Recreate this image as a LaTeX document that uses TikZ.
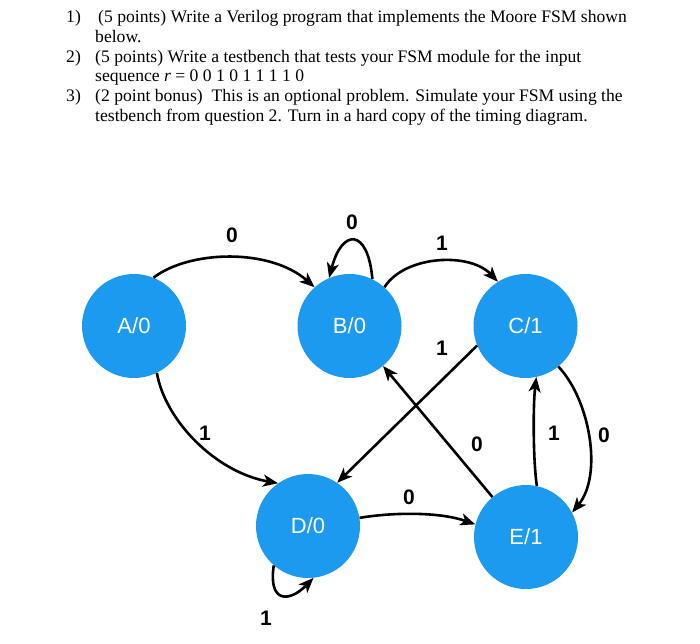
\documentclass[tikz,border=0pt]{standalone}
\usepackage{fontspec}
\setmainfont{Liberation Serif}
\newfontfamily\labelfont{Liberation Sans}
\usetikzlibrary{arrows.meta}
\definecolor{stateblue}{RGB}{28,154,240}
\tikzset{
  state/.style={circle,fill=stateblue,draw=none,minimum size=104pt,inner sep=0pt,
    text=white,font=\labelfont\fontsize{22}{24}\selectfont},
  trans/.style={line width=2.6pt,-{Stealth[length=15pt,width=12pt,inset=4pt]}},
  lbl/.style={font=\labelfont\bfseries\fontsize{21}{23}\selectfont,inner sep=0pt},
  qtext/.style={anchor=base west,inner sep=0pt,font=\fontsize{17.6}{19}\selectfont}
}
\begin{document}
\begin{tikzpicture}[x=1pt,y=1pt]
\useasboundingbox (0,0) rectangle (700,-643);
% question text
\node[qtext] (q1n) at (66,-22.3) {1)};
\node[qtext] (q1a) at (98,-22.3) {(5 points) Write a Verilog program that implements the Moore FSM shown};
\node[qtext] (q1b) at (95,-42.3) {below.};
\node[qtext] (q2n) at (66,-62.3) {2)};
\node[qtext] (q2a) at (95,-62.3) {(5 points) Write a testbench that tests your FSM module for the input};
\node[qtext] (q2b) at (95,-81.7) {sequence \textit{r} = 0 0 1 0 1 1 1 1 0};
\node[qtext] (q3n) at (66,-101.7) {3)};
\node[qtext] (q3a) at (95,-101.7) {(2 point bonus)\ \ This is an optional problem. Simulate your FSM using the};
\node[qtext] (q3b) at (95,-121.7) {testbench from question 2. Turn in a hard copy of the timing diagram.};
% states
\node[state] (A) at (134,-326) {A/0};
\node[state] (B) at (349.5,-326) {B/0};
\node[state] (C) at (525.5,-326) {C/1};
\node[state] (D) at (308,-526) {D/0};
\node[state] (E) at (526,-537) {E/1};
% transitions
\draw[trans] (A.68) .. controls (190,-250) and (270,-248) .. (B.132);
\draw[trans] (B.64) .. controls (368,-228) and (342,-228) .. (B.113);
\draw[trans] (B.48) .. controls (405,-255) and (470,-252) .. (C.122);
\draw[trans] (C.202) -- (D.56);
\draw[trans] (E.130) -- (B.-50);
\draw[trans] (A.-64) .. controls (165,-420) and (215,-472) .. (D.125);
\draw[trans] (D.-131) .. controls (268,-604) and (290,-602) .. (D.-84);
\draw[trans] (D.9) .. controls (395,-512) and (440,-512) .. (E.166);
\draw[trans] (E.78) .. controls (533,-460) and (533,-405) .. (C.-78);
\draw[trans] (C.-51) .. controls (590,-400) and (603,-475) .. (E.28);
% labels
\node[lbl] (l1) at (232,-235) {0};
\node[lbl] (l2) at (352,-222) {0};
\node[lbl] (l3) at (442,-243) {1};
\node[lbl] (l4) at (442,-348) {1};
\node[lbl] (l5) at (205,-433) {1};
\node[lbl] (l6) at (266,-618) {1};
\node[lbl] (l7) at (409,-497) {0};
\node[lbl] (l8) at (477,-444) {0};
\node[lbl] (l9) at (554,-433) {1};
\node[lbl] (l10) at (604,-435) {0};
\end{tikzpicture}
\end{document}
